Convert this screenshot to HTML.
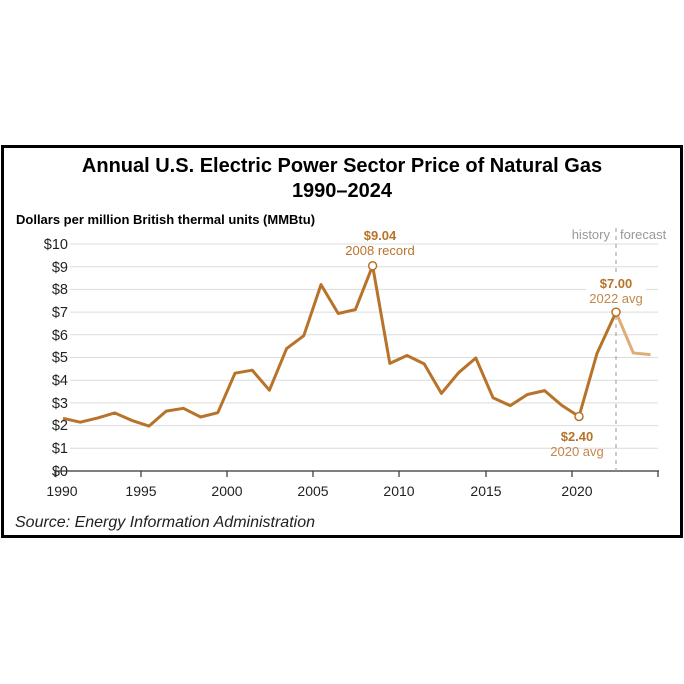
<!DOCTYPE html>
<html><head><style>
html,body{margin:0;padding:0;background:#fff;}
svg{display:block;font-family:"Liberation Sans",Arial,sans-serif;}
</style></head><body>
<svg width="684" height="684" viewBox="0 0 684 684">
<rect x="0" y="0" width="684" height="684" fill="#fff"/>
<rect x="2.5" y="146.5" width="679" height="390" fill="#fff" stroke="#000" stroke-width="3"/>
<text x="342" y="172" text-anchor="middle" font-size="20" font-weight="bold">Annual U.S. Electric Power Sector Price of Natural Gas</text>
<text x="342" y="197" text-anchor="middle" font-size="20" font-weight="bold">1990–2024</text>
<text x="16" y="224" font-size="13" font-weight="bold">Dollars per million British thermal units (MMBtu)</text>
<g stroke="#dcdcdc" stroke-width="1">
<line x1="70" x2="658" y1="244" y2="244"/>
<line x1="70" x2="658" y1="266.7" y2="266.7"/>
<line x1="70" x2="658" y1="289.4" y2="289.4"/>
<line x1="70" x2="658" y1="312.1" y2="312.1"/>
<line x1="70" x2="658" y1="334.8" y2="334.8"/>
<line x1="70" x2="658" y1="357.5" y2="357.5"/>
<line x1="70" x2="658" y1="380.2" y2="380.2"/>
<line x1="70" x2="658" y1="402.9" y2="402.9"/>
<line x1="70" x2="658" y1="425.6" y2="425.6"/>
<line x1="70" x2="658" y1="448.3" y2="448.3"/>
</g>
<g font-size="14.5" text-anchor="end" fill="#222">
<text x="68" y="249">$10</text><text x="68" y="272">$9</text><text x="68" y="294">$8</text>
<text x="68" y="317">$7</text><text x="68" y="340">$6</text><text x="68" y="362">$5</text>
<text x="68" y="385">$4</text><text x="68" y="408">$3</text><text x="68" y="430">$2</text>
<text x="68" y="453">$1</text><text x="68" y="476">$0</text>
</g>
<line x1="55" x2="659" y1="471" y2="471" stroke="#333" stroke-width="1.2"/>
<g stroke="#333" stroke-width="1.2">
<line x1="55" x2="55" y1="471" y2="477"/><line x1="141" x2="141" y1="471" y2="477"/>
<line x1="227" x2="227" y1="471" y2="477"/><line x1="313" x2="313" y1="471" y2="477"/>
<line x1="399" x2="399" y1="471" y2="477"/><line x1="486" x2="486" y1="471" y2="477"/>
<line x1="572" x2="572" y1="471" y2="477"/><line x1="658" x2="658" y1="471" y2="477"/>
</g>
<g font-size="14" text-anchor="middle" fill="#222">
<text x="62" y="496">1990</text><text x="141" y="496">1995</text><text x="227" y="496">2000</text>
<text x="313" y="496">2005</text><text x="399" y="496">2010</text><text x="486" y="496">2015</text>
<text x="577" y="496">2020</text>
</g>
<line x1="616" x2="616" y1="228" y2="471" stroke="#999" stroke-width="1" stroke-dasharray="4,4"/>
<text x="610" y="239" font-size="13" fill="#999" text-anchor="end">history</text>
<text x="620" y="239" font-size="13" fill="#999">forecast</text>
<polyline fill="none" stroke="#b8732a" stroke-width="3" stroke-linejoin="round" points="63,418.3 80.2,422.2 97.4,418.1 114.6,412.9 131.8,420.4 149,426.1 166.2,411.1 183.4,408.3 200.6,417 217.8,412.7 235,373.2 252.2,370.2 269.4,390.2 286.6,348.6 303.8,335.7 321,284.6 338.2,313.5 355.4,309.6 372.6,265.8 389.8,363.4 407,355.5 424.2,363.9 441.4,393.4 458.6,372.7 475.8,358 493,397.7 510.2,405.6 527.4,394.5 544.6,390.6 561.8,405.4 579,416.5 597,353.4 616,312.1"/>
<polyline fill="none" stroke="#e0ad78" stroke-width="3" stroke-linejoin="round" points="616,312.1 633.3,353 650.5,354.6"/>
<rect x="586" y="275" width="60" height="30" fill="#fff"/>
<circle cx="372.6" cy="265.8" r="4" fill="#fff" stroke="#b8732a" stroke-width="1.5"/>
<circle cx="616" cy="312.1" r="4" fill="#fff" stroke="#b8732a" stroke-width="1.5"/>
<circle cx="579" cy="416.5" r="4" fill="#fff" stroke="#b8732a" stroke-width="1.5"/>
<g font-size="13" text-anchor="middle" fill="#b8732a">
<text x="380" y="240" font-weight="bold">$9.04</text><text x="380" y="255">2008 record</text>
<text x="616" y="288" font-weight="bold">$7.00</text><text x="616" y="303" fill="#c4874a">2022 avg</text>
<text x="577" y="441" font-weight="bold">$2.40</text><text x="577" y="456" fill="#c4874a">2020 avg</text>
</g>
<text x="15" y="527" font-size="16" font-style="italic" fill="#222">Source: Energy Information Administration</text>
</svg>
</body></html>
